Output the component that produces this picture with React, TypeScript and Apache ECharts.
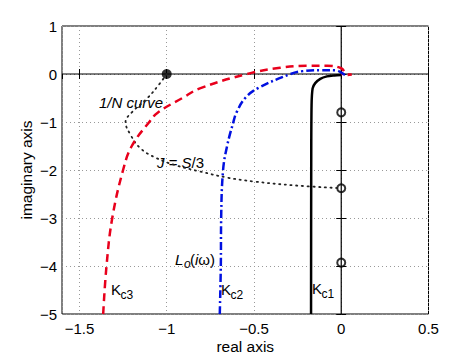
import React, { useEffect, useRef } from "react";
import * as echarts from "echarts";

// Kc3 locus (red dashed)
const kc3X = [-1.364, -1.345, -1.312, -1.25, -1.2, -1.1, -1.05, -0.91, -0.81, -0.54, -0.35, -0.2, -0.08, 0, 0.025, 0.05, 0.06, 0.03, 0];
const kc3Y = [-5, -4, -3, -2, -1.5, -1, -0.8, -0.5, -0.3, 0, 0.13, 0.17, 0.17, 0.12, 0.02, -0.01, -0.01, -0.02, 0];
// Kc2 locus (blue dash-dot)
const kc2X = [-0.696, -0.69, -0.688, -0.677, -0.654, -0.618, -0.6, -0.55, -0.48, -0.29, -0.22, -0.12, -0.03, 0, 0.02, 0];
const kc2Y = [-5, -4, -3, -2, -1.5, -1, -0.8, -0.5, -0.3, 0, 0.06, 0.08, 0.075, 0.03, -0.02, -0.01];
// Kc1 locus (black solid)
const kc1X = [-0.173, -0.172, -0.17, -0.164, -0.149, -0.12, -0.082, -0.04, 0];
const kc1Y = [-5, -2, -0.65, -0.3, -0.19, -0.1, -0.05, -0.03, -0.02];
// 1/N curve (black dotted)
const invNX = [-1, -1.04, -1.11, -1.2, -1.236, -1.21, -1.15, -1.06, -0.95, -0.81, -0.65, -0.5, -0.27, 0];
const invNY = [0, -0.2, -0.5, -0.8, -1.0, -1.25, -1.55, -1.75, -1.9, -2.03, -2.16, -2.24, -2.32, -2.38];
// markers
const filledDot: [number, number] = [-1, 0];
const openCirclesY = [-0.8, -2.38, -3.93];

const xMin = -1.6;
const xMax = 0.5;
const yMin = -5;
const yMax = 1;

const zip = (xs: number[], ys: number[]) => xs.map((x, i) => [x, ys[i]]);
const fmt = (v: number) => String(v).replace("-", "\u2212");

export default function App() {
  const ref = useRef<HTMLDivElement>(null);
  useEffect(() => {
    if (!ref.current) return;
    const chart = echarts.init(ref.current, null, { renderer: "svg" });
    const font = "'Liberation Sans', Arial, Helvetica, sans-serif";
    const tickStyle = { show: true, inside: true, length: 5, lineStyle: { color: "#000", width: 1 } };
    const lbl = (x: number, y: number, text: string, size: number, italic = false) => ({
      type: "text",
      x,
      y,
      style: {
        text,
        fill: "#000",
        font: `${italic ? "italic " : ""}${size}px ${font}`,
        textVerticalAlign: "alphabetic",
      },
    });
    chart.setOption({
      animation: false,
      backgroundColor: "#fff",
      grid: {
        left: 62,
        right: 45.5,
        top: 26,
        bottom: 41,
        show: true,
        borderColor: "#000",
        borderWidth: 1,
        backgroundColor: "transparent",
        outerBoundsMode: "none",
      },
      xAxis: [
        {
          type: "value",
          min: xMin,
          max: xMax,
          splitNumber: 5,
          axisLine: { show: false },
          axisTick: tickStyle,
          axisLabel: { showMinLabel: false, formatter: fmt, color: "#000", fontSize: 15, fontFamily: font, margin: 7 },
          splitLine: { show: true, lineStyle: { type: [1, 3], color: "#999", width: 1 } },
          name: "real axis",
          nameLocation: "middle",
          nameGap: 24,
          nameMoveOverlap: false,
          nameTextStyle: { color: "#000", fontSize: 15.5, fontFamily: font, verticalAlign: "top" },
        },
        {
          type: "value",
          position: "top",
          min: xMin,
          max: xMax,
          splitNumber: 5,
          axisLine: { show: false },
          axisTick: tickStyle,
          axisLabel: { show: false },
          splitLine: { show: false },
        },
      ],
      yAxis: [
        {
          type: "value",
          min: yMin,
          max: yMax,
          interval: 1,
          axisLine: { show: false },
          axisTick: tickStyle,
          axisLabel: { formatter: fmt, color: "#000", fontSize: 15, fontFamily: font, margin: 5 },
          splitLine: { show: true, lineStyle: { type: [1, 3], color: "#999", width: 1 } },
          name: "imaginary axis",
          nameLocation: "middle",
          nameGap: 28,
          nameMoveOverlap: false,
          nameRotate: 90,
          nameTextStyle: { color: "#000", fontSize: 15.5, fontFamily: font },
        },
        {
          type: "value",
          position: "right",
          min: yMin,
          max: yMax,
          interval: 1,
          axisLine: { show: false },
          axisTick: tickStyle,
          axisLabel: { show: false },
          splitLine: { show: false },
        },
      ],
      series: [
        {
          type: "line",
          data: [[0, yMax], [0, yMin]],
          symbol: "none",
          lineStyle: { color: "#000", width: 1.2 },
          silent: true,
        },
        {
          type: "line",
          data: [[xMin, 0], [xMax, 0]],
          symbol: "none",
          lineStyle: { color: "#000", width: 1.2 },
          silent: true,
        },
        {
          type: "line",
          data: zip(invNX, invNY),
          symbol: "none",
          smooth: 0.4,
          lineStyle: { color: "#222", width: 1.8, type: [1.2, 4.5], cap: "round" },
        },
        {
          type: "line",
          data: zip(kc3X, kc3Y),
          symbol: "none",
          smooth: 0.4,
          lineStyle: { color: "#e8001c", width: 2.5, type: [8, 5] },
        },
        {
          type: "line",
          data: zip(kc2X, kc2Y),
          symbol: "none",
          smooth: 0.4,
          lineStyle: { color: "#0010e0", width: 2.5, type: [8, 3, 2, 3] },
        },
        {
          type: "line",
          data: zip(kc1X, kc1Y),
          symbol: "none",
          smooth: 0.3,
          lineStyle: { color: "#000", width: 2.5 },
        },
        {
          type: "scatter",
          data: [filledDot],
          symbol: "circle",
          symbolSize: 10,
          itemStyle: { color: "#000" },
        },
        {
          type: "scatter",
          data: openCirclesY.map((y) => [0, y]),
          symbol: "circle",
          symbolSize: 8,
          itemStyle: { color: "#fff", borderColor: "#000", borderWidth: 2 },
        },
      ],
      graphic: [
        lbl(99, 95, "1/N curve", 15, true),
        {
          type: "text",
          x: 157,
          y: 155,
          style: {
            text: "{i|J} = {i|S}/3",
            fill: "#000",
            font: `15px ${font}`,
            textVerticalAlign: "alphabetic",
            rich: { i: { fontStyle: "italic", fontSize: 15, fontFamily: font } },
          },
        },
        lbl(175, 251.5, "L", 15, true),
        lbl(184, 258, "o", 12, true),
        {
          type: "text",
          x: 190,
          y: 251.5,
          style: {
            text: "({i|i}\u03c9)",
            fill: "#000",
            font: `15px ${font}`,
            textVerticalAlign: "alphabetic",
            rich: { i: { fontStyle: "italic", fontSize: 15, fontFamily: font } },
          },
        },
        lbl(111, 282, "K", 15),
        lbl(120.5, 289, "c3", 12),
        lbl(221, 282, "K", 15),
        lbl(230.5, 289, "c2", 12),
        lbl(312, 281, "K", 15),
        lbl(321.5, 288, "c1", 12),
      ],
    });
    return () => chart.dispose();
  }, []);
  return (
    <div
      ref={ref}
      style={{ position: "absolute", left: 0, top: 0, width: 474, height: 355 }}
    />
  );
}
